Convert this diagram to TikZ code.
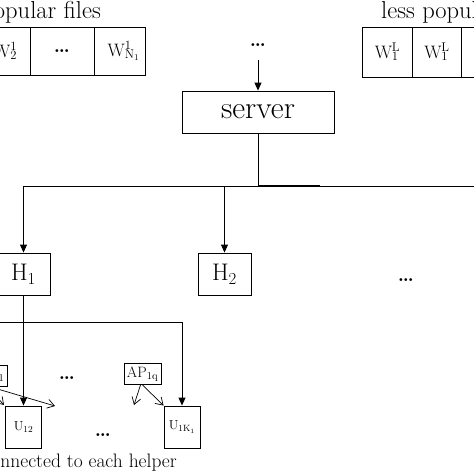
\documentclass[tikz,border=0pt]{standalone}
\usepackage{fontspec}
\usetikzlibrary{arrows.meta}
\def \lw {0.9pt}
\def \busy {186}
\newcommand{\supsub}[3]{#1\rlap{\textsubscript{#2}}\textsuperscript{#3}}
\tikzstyle{box}=[draw, line width=\lw, inner sep=0pt]
\tikzstyle{cell}=[box, minimum height=48pt, font=\fontsize{18}{20}\selectfont]
\tikzstyle{helper}=[box, minimum width=53pt, minimum height=42pt, font=\fontsize{24}{28}\selectfont]
\tikzstyle{user}=[box, minimum width=36pt, minimum height=42pt, font=\fontsize{13}{15}\selectfont]
\tikzstyle{ap}=[box, minimum width=37pt, minimum height=21pt, font=\fontsize{15}{17}\selectfont]
\tikzstyle{caption}=[inner sep=0pt, font=\fontsize{24.5}{28}\selectfont]
\tikzstyle{etc}=[inner sep=0pt, font=\fontsize{20}{22}\selectfont]
\tikzstyle{feed}=[-{Triangle[length=8pt,width=7pt]}, line width=\lw]
\tikzstyle{barb}=[-{Straight Barb[length=7pt,width=9pt]}, line width=0.7pt]

\begin{document}
\begin{tikzpicture}[x=1pt, y=-1pt]
\useasboundingbox (0,0) rectangle (474,474);

% file libraries
\node[caption, anchor=east] (popcap) at (101,12) {popular files};
\node[caption, anchor=west] (lesscap) at (381,12) {less popular files};

\foreach \n/\x/\w/\t in {P1/-70/50/\supsub{W}{1}{1}, P2/5/50/\supsub{W}{2}{1}, P3/62/64/{\fontsize{20}{22}\selectfont\textbf{\dots}}, P4/119.5/51/\supsub{W}{N\textsubscript{1}}{1}}
    \node[cell, minimum width=\w pt] (\n) at (\x,51) {\t};

\foreach \n/\x/\t in {L1/387.5/\supsub{W}{1}{L}, L2/437/\supsub{W}{1}{L}, L3/486.5/{}}
    \node[cell, minimum width=49.5pt, minimum height=50pt] (\n) at (\x,52) {\t};

% server
\node[etc] (more) at (258,45) {\textbf{\dots}};
\coordinate (feedin) at (258,60);
\node[box, minimum width=152pt, minimum height=42pt, font=\fontsize{31.6}{36}\selectfont] (server) at (258,112) {server};
\draw[feed] (feedin) -- (server);

% helpers
\coordinate (bus) at (258,\busy);
\coordinate (busend) at (490,\busy);
\node[helper] (H1) at (23.5,274) {H\textsubscript{1}};
\node[helper] (H2) at (224.5,274) {H\textsubscript{2}};
\node[etc] (Hmore) at (406,280) {\textbf{\dots}};
\draw[line width=\lw] (server) -- (bus) -- (busend);
\draw[line width=1.5pt] (bus) -- ++(62,0);
\draw[feed] (bus) -| (H1.north);
\draw[feed] (bus) -| (H2.north);

% users of helper 1
\node[user] (U12) at (23.5,427) {U\textsubscript{12}};
\node[user] (U1K) at (182,427) {U\textsubscript{1K\textsubscript{1}}};
\node[etc] (Umore) at (103,435) {\textbf{\dots}};
\coordinate (link) at (-10,322);
\draw[feed] (H1) -- (U12);
\draw[feed] (link) -| (U1K.north);

% access points
\node[ap] (AP11) at (-11,375.5) {AP\textsubscript{11}};
\node[ap] (AP1q) at (142.5,374) {AP\textsubscript{1q}};
\node[etc] (APmore) at (67,378) {\textbf{\dots}};
\coordinate (AP11a) at (4,405);
\coordinate (AP11b) at (55,406);
\coordinate (AP1qa) at (134,405);
\draw[barb] ([xshift=-2pt]AP11.south) -- (AP11a);
\draw[barb] (AP11.south) -- (AP11b);
\draw[barb] ([xshift=-2pt]AP1q.south) -- (AP1qa);
\draw[barb] (AP1q.south) -- (U1K.north west);

\node[inner sep=0pt, anchor=east, font=\fontsize{19.5}{22}\selectfont] (note) at (177,463) {APs connected to each helper};

\end{tikzpicture}
\end{document}
